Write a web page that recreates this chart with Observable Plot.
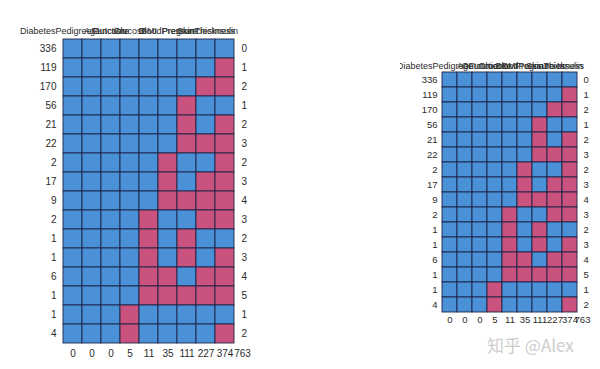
<!DOCTYPE html>
<html>
<head>
<meta charset="utf-8">
<script src="https://cdn.jsdelivr.net/npm/d3@7"></script>
<script src="https://cdn.jsdelivr.net/npm/@observablehq/plot@0.6"></script>
<style>
  html, body { margin: 0; padding: 0; background: #fff; }
  #root { position: relative; width: 600px; height: 369px; overflow: hidden; background: #fff; }
  .panel { position: absolute; top: 0; overflow: hidden; }
  .panel svg { overflow: visible; display: block; }
  #wm { position: absolute; left: 487px; top: 332px; font-family: "Noto Sans CJK SC", "Noto Sans", sans-serif; font-size: 17px; color: #cdcdcd; white-space: nowrap; }
</style>
</head>
<body>
<div id="root">
  <div id="left" class="panel" style="left:0px;width:260px;height:369px"></div>
  <div id="right" class="panel" style="left:400px;width:200px;height:369px"></div>
  <div id="wm">知乎 @Alex</div>
</div>
<script>
// columns ordered by number of missing values
const columns = ["DiabetesPedigreeFunction", "Age", "Outcome", "Glucose", "BMI", "BloodPressure", "Pregnancies", "SkinThickness", "Insulin"];
const columnMissing = [0, 0, 0, 5, 11, 35, 111, 227, 374];
const totalMissing = 763;
// one row per missing-data pattern
const rowCounts = [336, 119, 170, 56, 21, 22, 2, 17, 9, 2, 1, 1, 6, 1, 1, 4];
const rowMissing = [0, 1, 2, 1, 2, 3, 2, 3, 4, 3, 2, 3, 4, 5, 1, 2];
// "1" = missing in that column
const patterns = [
  "000000000",
  "000000001",
  "000000011",
  "000000100",
  "000000101",
  "000000111",
  "000001001",
  "000001011",
  "000001111",
  "000010011",
  "000010100",
  "000010101",
  "000011011",
  "000011111",
  "000100000",
  "000100001"
];

const cells = [];
patterns.forEach((p, r) => {
  columns.forEach((c, j) => cells.push({row: r, col: c, missing: p[j] === "1"}));
});
const rows = d3.range(patterns.length);

function makeChart(o) {
  return Plot.plot({
    width: o.width,
    height: o.height,
    marginLeft: o.ml, marginRight: o.mr, marginTop: o.mt, marginBottom: o.mb,
    style: {fontFamily: "'Liberation Sans', Arial, sans-serif", fontSize: o.fs + "px", color: "#2a2a2a", background: "transparent"},
    x: {domain: columns, padding: 0},
    y: {domain: rows, padding: 0},
    color: {domain: [false, true], range: ["#4a91d7", "#c9527f"]},
    marks: [
      Plot.cell(cells, {x: "col", y: "row", fill: "missing", stroke: "#1d2546", strokeWidth: 0.9}),
      Plot.axisX({anchor: "top", tickSize: 0, tickPadding: o.topPad, label: null, fontSize: o.topFs}),
      Plot.axisX({anchor: "bottom", tickSize: 0, tickPadding: o.botPad, label: null,
        tickFormat: d => String(columnMissing[columns.indexOf(d)])}),
      Plot.axisY({anchor: "left", tickSize: 0, tickPadding: o.leftPad, label: null,
        tickFormat: d => String(rowCounts[d])}),
      Plot.axisY({anchor: "right", tickSize: 0, tickPadding: o.rightPad, label: null,
        tickFormat: d => String(rowMissing[d])}),
      Plot.text([String(totalMissing)], {frameAnchor: "bottom-right", text: d => d, dx: o.totDx, dy: o.totDy, textAnchor: "middle", lineAnchor: "top"})
    ]
  });
}

document.getElementById("left").appendChild(makeChart({
  width: 260, height: 369, ml: 61, mr: 25, mt: 36, mb: 23, fs: 10, topFs: 9,
  topPad: 3, botPad: 3, leftPad: 5, rightPad: 6, totDx: 7, totDy: 3
}));
document.getElementById("right").appendChild(makeChart({
  width: 200, height: 369, ml: 41, mr: 22, mt: 70, mb: 56, fs: 9.5, topFs: 9,
  topPad: 2, botPad: 3, leftPad: 4, rightPad: 5, totDx: 4, totDy: 3
}));
</script>
</body>
</html>
